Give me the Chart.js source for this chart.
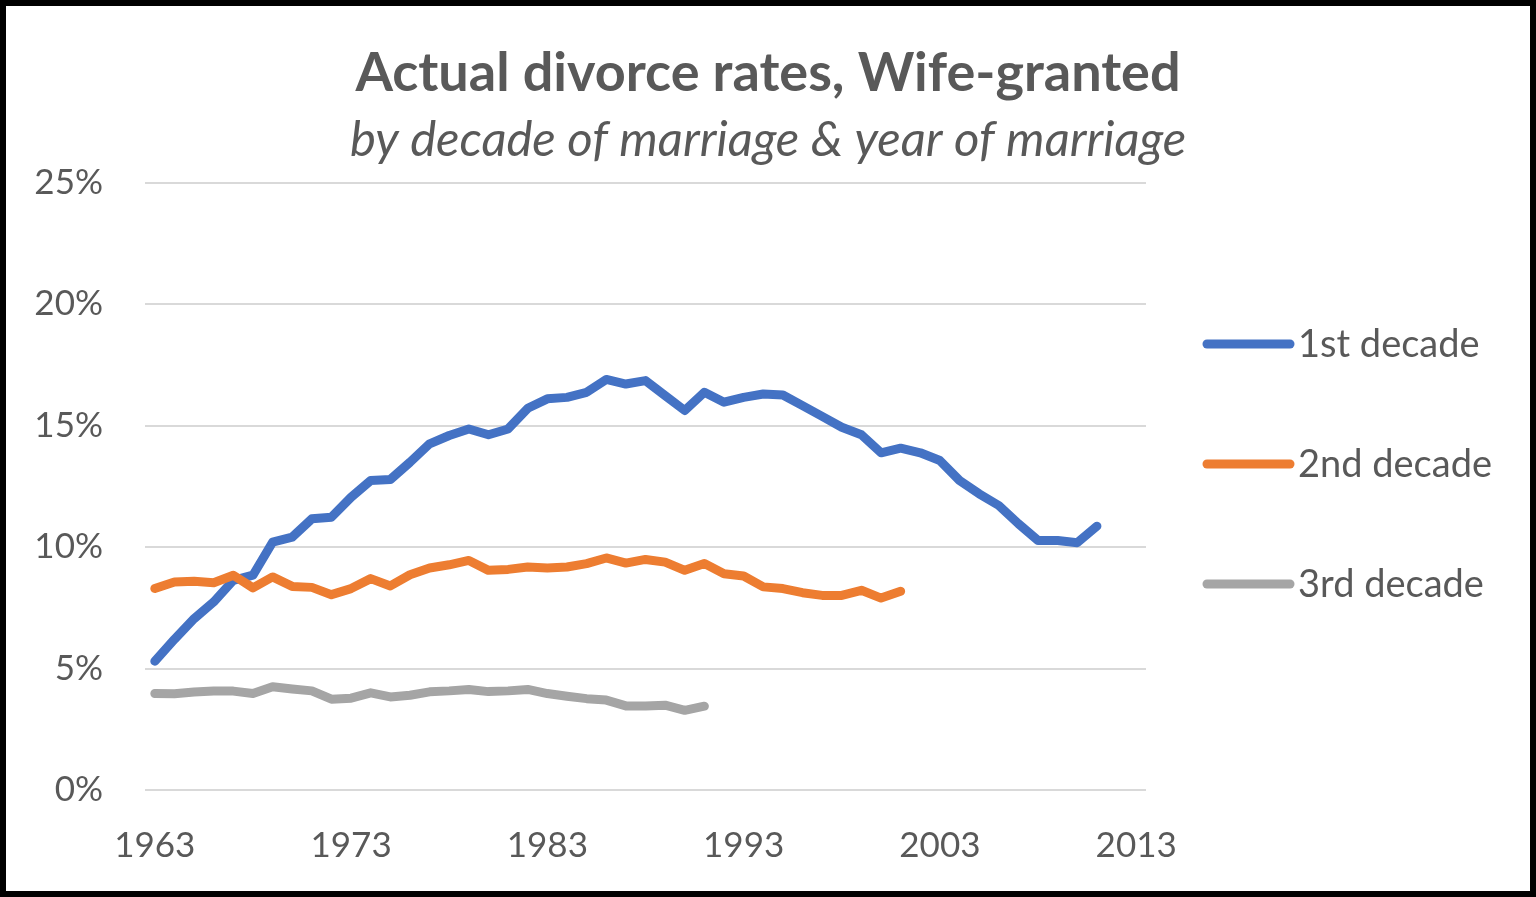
<!DOCTYPE html>
<html>
<head>
<meta charset="utf-8">
<title>Actual divorce rates, Wife-granted</title>
<script src="https://cdn.jsdelivr.net/npm/chart.js@4.4.1/dist/chart.umd.min.js"></script>
<style>
  html, body { margin: 0; padding: 0; background: #fff; }
  #frame {
    position: absolute; left: 0; top: 0;
    width: 1536px; height: 897px;
    box-sizing: border-box;
    border: 6px solid #000;
    background: #fff;
  }
  #wrap { position: relative; width: 100%; height: 100%; }
</style>
</head>
<body>
<div id="frame"><div id="wrap"><canvas id="chart"></canvas></div></div>
<script>
// Actual divorce rates (%) by decade of marriage, year of marriage 1963-2013

const years = [
  '1963', '1964', '1965', '1966', '1967', '1968', '1969', '1970', '1971', '1972',
  '1973', '1974', '1975', '1976', '1977', '1978', '1979', '1980', '1981', '1982',
  '1983', '1984', '1985', '1986', '1987', '1988', '1989', '1990', '1991', '1992',
  '1993', '1994', '1995', '1996', '1997', '1998', '1999', '2000', '2001', '2002',
  '2003', '2004', '2005', '2006', '2007', '2008', '2009', '2010', '2011', '2012',
  '2013',
];
const xTickLabels = ['1963', '1973', '1983', '1993', '2003', '2013'];
const yTickValues = [0, 5, 10, 15, 20, 25];

const seriesNames = ['1st decade', '2nd decade', '3rd decade'];

// 1963 - 2011
const firstDecade = [
  5.30, 6.20, 7.05, 7.74, 8.63, 8.84, 10.20, 10.41, 11.16, 11.23,
  12.05, 12.74, 12.78, 13.49, 14.25, 14.59, 14.86, 14.62, 14.86, 15.71,
  16.10, 16.16, 16.37, 16.90, 16.71, 16.85, 16.23, 15.62, 16.37, 15.96,
  16.16, 16.30, 16.26, 15.82, 15.38, 14.93, 14.62, 13.88, 14.07, 13.88,
  13.56, 12.74, 12.19, 11.71, 10.96, 10.27, 10.27, 10.18, 10.86,
];
// 1963 - 2001
const secondDecade = [
  8.29, 8.56, 8.59, 8.53, 8.84, 8.32, 8.77, 8.38, 8.34, 8.04,
  8.29, 8.70, 8.40, 8.86, 9.14, 9.27, 9.45, 9.04, 9.08, 9.18,
  9.14, 9.18, 9.32, 9.55, 9.34, 9.49, 9.38, 9.04, 9.32, 8.90,
  8.81, 8.36, 8.29, 8.12, 8.01, 8.01, 8.22, 7.90, 8.18,
];
// 1963 - 1991
const thirdDecade = [
  3.97, 3.96, 4.03, 4.07, 4.07, 3.97, 4.25, 4.16, 4.08, 3.74,
  3.78, 4.00, 3.83, 3.90, 4.04, 4.08, 4.14, 4.05, 4.08, 4.14,
  3.97, 3.86, 3.76, 3.70, 3.46, 3.46, 3.49, 3.28, 3.45,
];

const FONT = 'Lato, Calibri, Carlito, sans-serif';
const TEXT = '#595959';
const COLORS = ['#4472C4', '#ED7D31', '#A5A5A5'];

// legend drawn on the right, one row per series
const sideLegend = {
  id: 'sideLegend',
  afterDraw(chart) {
    const { ctx } = chart;
    const x0 = 1201;
    const x1 = 1284;
    ctx.save();
    ctx.font = `38px ${FONT}`;
    ctx.textBaseline = 'middle';
    ctx.textAlign = 'left';
    chart.data.datasets.forEach((ds, i) => {
      const y = 338 + i * 120;
      ctx.strokeStyle = ds.borderColor;
      ctx.lineWidth = 9;
      ctx.lineCap = 'round';
      ctx.beginPath();
      ctx.moveTo(x0, y);
      ctx.lineTo(x1, y);
      ctx.stroke();
      ctx.fillStyle = TEXT;
      ctx.fillText(ds.label, x1 + 8, y + 1);
    });
    ctx.restore();
  },
};

function makeLine(label, data, color, order) {
  return {
    label,
    data,
    borderColor: color,
    backgroundColor: color,
    borderWidth: 9,
    borderCapStyle: 'round',
    borderJoinStyle: 'round',
    pointRadius: 0,
    tension: 0,
    fill: false,
    order,
  };
}

new Chart(document.getElementById('chart').getContext('2d'), {
  type: 'line',
  data: {
    labels: years,
    datasets: [
      makeLine(seriesNames[0], firstDecade, COLORS[0], 3),
      makeLine(seriesNames[1], secondDecade, COLORS[1], 2),
      makeLine(seriesNames[2], thirdDecade, COLORS[2], 1),
    ],
  },
  options: {
    responsive: true,
    maintainAspectRatio: false,
    animation: false,
    layout: { padding: 0 },
    plugins: {
      legend: { display: false },
      tooltip: { enabled: false },
      title: {
        display: true,
        text: 'Actual divorce rates, Wife-granted',
        color: TEXT,
        font: { family: FONT, size: 54, weight: 'bold', lineHeight: 1.2 },
        padding: { top: 35, bottom: 5 },
      },
      subtitle: {
        display: true,
        text: 'by decade of marriage & year of marriage',
        color: TEXT,
        font: { family: FONT, size: 49, style: 'italic', lineHeight: 1.2 },
        padding: { top: 0, bottom: 13 },
      },
    },
    scales: {
      x: {
        offset: true,
        grid: { display: false, drawTicks: false },
        border: { display: false },
        ticks: {
          autoSkip: false,
          maxRotation: 0,
          color: TEXT,
          padding: 35,
          font: { family: FONT, size: 35 },
          callback(value) {
            const lab = this.getLabelForValue(value);
            return xTickLabels.includes(lab) ? lab : '';
          },
        },
        afterFit(scale) { scale.height = 101; },
      },
      y: {
        min: 0,
        max: 25,
        grid: { color: '#D9D9D9', lineWidth: 2, drawTicks: false },
        border: { display: false },
        afterBuildTicks(scale) {
          scale.ticks = yTickValues.map((v) => ({ value: v }));
        },
        ticks: {
          color: TEXT,
          padding: 42,
          font: { family: FONT, size: 35 },
          callback: (v) => `${v}%`,
        },
        afterFit(scale) { scale.width = 139; },
      },
      // empty axis that reserves the space where the legend sits
      legendSpace: {
        position: 'right',
        min: 0,
        max: 25,
        grid: { display: false, drawTicks: false },
        border: { display: false },
        ticks: { display: false },
        afterFit(scale) { scale.width = 384; },
      },
    },
  },
  plugins: [sideLegend],
});
</script>
</body>
</html>
